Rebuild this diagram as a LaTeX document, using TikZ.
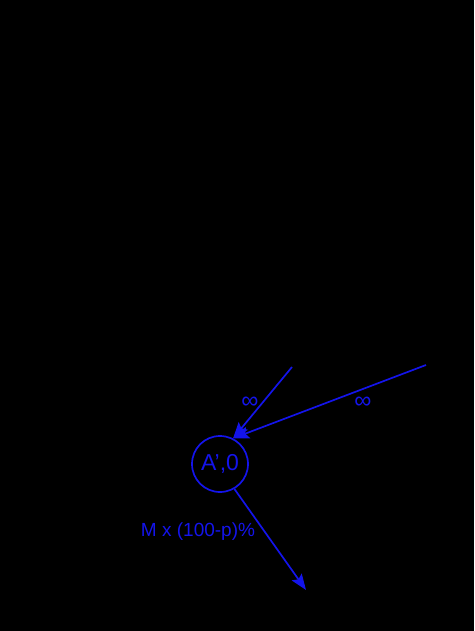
\documentclass[tikz,border=0pt]{standalone}
\usepackage{fontspec}
\setmainfont{Liberation Sans}
\usepackage{xcolor}
\usetikzlibrary{positioning}
\usetikzlibrary{arrows.meta}
\definecolor{flowblue}{RGB}{20,20,235}
\tikzset{
    state/.style={circle, draw=flowblue, line width=1.7pt, minimum size=56pt, inner sep=0pt, text=flowblue, font=\fontsize{23}{27}\selectfont},
    flow/.style={draw=flowblue, line width=1.7pt, -{Stealth[length=16pt,width=12pt,inset=3pt]}},
    flowlabel/.style={text=flowblue, font=\fontsize{19}{22}\selectfont}
}

\begin{document}
\begin{tikzpicture}[x=1pt,y=-1pt]
            % Background
            \fill[black] (0,0) rectangle (474,631);
            \useasboundingbox (0,0) rectangle (474,631);

            % State
            \node[state] (A) at (220,464) {A',0};

            % Free ends
            \coordinate (inA) at (292,367);
            \coordinate (inB) at (426,365);
            \coordinate (out) at (306,590);

            % Incoming flows
            \draw[flow] (inA) -- (A.63);
            \draw[flow] (inB) -- (A.63);

            % Outgoing flow
            \draw[flow] (A.-60) -- (out);

            % Labels
            \node[flowlabel, font=\fontsize{24}{26}\selectfont] (infA) at (250,403) {∞};
            \node[flowlabel, font=\fontsize{24}{26}\selectfont] (infB) at (363,403) {∞};
            \node[flowlabel] (outlabel) at (198,532) {M x (100-p)\%};
        \end{tikzpicture}
\end{document}
